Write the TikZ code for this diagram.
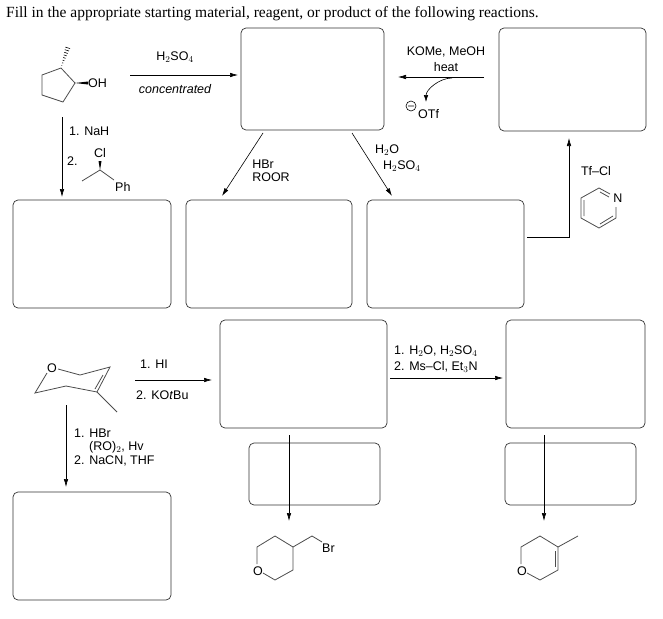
\documentclass[tikz,border=0pt]{standalone}
\usepackage{fontspec}
\setmainfont{Liberation Sans}
\newfontfamily\titlefont{Liberation Serif}
\usetikzlibrary{arrows.meta,calc}
\begin{document}
\begin{tikzpicture}[x=1pt,y=-1pt,
  box/.style={draw=black!80,rounded corners=5pt,line width=0.7pt},
  arr/.style={-{Latex[length=8pt,width=4.5pt]},line width=0.6pt},
  bond/.style={draw=black!70,line width=0.8pt},
  lab/.style={font=\fontsize{12.5}{13}\selectfont,inner sep=0pt,align=left}]
\useasboundingbox (0,0) rectangle (663,618);
\node[anchor=west,inner sep=0pt,font=\titlefont\fontsize{15.5}{17}\selectfont] (title) at (6,14) {Fill in the appropriate starting material, reagent, or product of the following reactions.};
% boxes
\draw[box] (241,28) rectangle (384,130);
\draw[box] (499,28) rectangle (646,131);
\draw[box] (13,200) rectangle (171,308);
\draw[box] (186,200) rectangle (352,308);
\draw[box] (367,200) rectangle (524,308);
\draw[box] (220,320) rectangle (387,428);
\draw[box] (506,320) rectangle (645,428);
\draw[box] (249,443) rectangle (380,505);
\draw[box] (505,443) rectangle (636,505);
\draw[box] (13,492) rectangle (171,600);
% coordinates
\coordinate (a1s) at (130,75); \coordinate (a1e) at (238,75);
\coordinate (a2s) at (62,117); \coordinate (a2e) at (62,197);
\coordinate (a3s) at (263,133); \coordinate (a3e) at (222,196);
\coordinate (a4s) at (352,133); \coordinate (a4e) at (392,196);
\coordinate (a5s) at (484,77); \coordinate (a5e) at (398,77);
\coordinate (a6s) at (527,237); \coordinate (a6m) at (569,237); \coordinate (a6e) at (569,138);
\coordinate (a7s) at (135,380); \coordinate (a7e) at (212,380);
\coordinate (a8s) at (66,405); \coordinate (a8e) at (66,487);
\coordinate (a9s) at (390,378); \coordinate (a9e) at (503,378);
\coordinate (a10s) at (289,435); \coordinate (a10e) at (289,521);
\coordinate (a11s) at (544,435); \coordinate (a11e) at (544,521);
\draw[arr] (a1s) -- (a1e);
\draw[arr] (a2s) -- (a2e);
\draw[arr] (a3s) -- (a3e);
\draw[arr] (a4s) -- (a4e);
\draw[arr] (a5s) -- (a5e);
\draw[arr] (a6s) -- (a6m) -- (a6e);
\draw[arr] (a7s) -- (a7e);
\draw[arr] (a8s) -- (a8e);
\draw[arr] (a9s) -- (a9e);
\draw[arr] (a10s) -- (a10e);
\draw[arr] (a11s) -- (a11e);
\coordinate (c1) at (452,78); \coordinate (c2) at (426,102);
\draw[-{Latex[length=7pt,width=4.5pt]},line width=0.6pt] (c1) to[out=180,in=90,looseness=0.9] (c2);
% labels
\node[lab] (l1) at (175,57) {H$_2$SO$_4$};
\node[lab,font=\itshape\fontsize{12.5}{13}\selectfont] (l2) at (175,89) {concentrated};
\node[lab,anchor=west] (l3) at (69,131) {1. NaH};
\node[lab,anchor=west] (l4) at (67,161) {2.};
\node[lab] (cl) at (100,153) {Cl};
\node[lab,anchor=west] (ph) at (115,187) {Ph};
\fill (100,170) -- (98.5,161) -- (101.5,161) -- cycle;
\draw[bond] (100,170) -- (82,181) (100,170) -- (114,180);
\node[lab,align=left] (l5) at (271,171) {HBr\\ROOR};
\node[lab,anchor=west] (l6) at (375,150) {H$_2$O};
\node[lab,anchor=west] (l7) at (383,166) {H$_2$SO$_4$};
\node[lab] (l8) at (446,52) {KOMe, MeOH};
\node[lab] (l8b) at (446,67) {heat};
\node[lab,anchor=west] (otf) at (418,114) {OTf};
\draw[line width=0.6pt] (411,106) circle (5) (408,106) -- (414,106);
\node[lab] (l9) at (596,171) {Tf--Cl};
\node[lab,anchor=west] (l10) at (140,364) {1. HI};
\node[lab,anchor=west] (l11) at (136,395) {2. KO\textit{t}Bu};
\node[lab,anchor=west] (l12) at (74,433) {1. HBr};
\node[lab,anchor=west] (l13) at (89,447) {(RO)$_2$, Hv};
\node[lab,anchor=west] (l14) at (74,461) {2. NaCN, THF};
\node[lab,anchor=west] (l15) at (394,351) {1. H$_2$O, H$_2$SO$_4$};
\node[lab,anchor=west] (l16) at (394,367) {2. Ms--Cl, Et$_3$N};
% cyclopentanol
\draw[bond] (42,75) -- (61,68) -- (75,83) -- (63,102) -- (42,95) -- cycle;
\foreach \t in {0.12,0.24,...,1} \draw[line width=0.6pt] ($(61,68)!\t!(68,47)+(-\t*2.5,-\t*0.8)$) -- ($(61,68)!\t!(68,47)+(\t*2.5,\t*0.8)$);
\fill (75,83) -- (88,81.5) -- (88,84.5) -- cycle;
\node[lab,anchor=west] (oh) at (88,83.5) {OH};
% pyridine
\draw[bond] (599,188) -- (581,198) -- (581,218) -- (599,228) -- (616,218) -- (616,207);
\draw[bond] (599,188) -- (610,194);
\draw[bond] (584,200) -- (584,216) (600,224) -- (613,216) (600,192) -- (609,197);
\node[lab] (n) at (618,198) {N};
% dihydropyran bottom-left
\node[lab] (o1) at (52,368) {O};
\draw[bond] (58,369) -- (80,375) -- (110,367) -- (97,392) -- (66,386) -- (35,393) -- (47,373);
\draw[bond] (103,375) -- (95,389);
\draw[bond] (97,392) -- (117,412);
% bottom molecule 1
\node[lab] (o2) at (258,571) {O};
\draw[bond] (257,564) -- (257,547) -- (275,536) -- (293,547) -- (293,570) -- (275,580) -- (263,573);
\draw[bond] (293,547) -- (312,536) -- (322,542);
\node[lab,anchor=west] (br) at (322,548) {Br};
% bottom molecule 2
\node[lab] (o3) at (522,571) {O};
\draw[bond] (521,564) -- (521,547) -- (540,536) -- (558,547) -- (558,570) -- (540,580) -- (527,573);
\draw[bond] (555,551) -- (555,567);
\draw[bond] (558,547) -- (578,536);
\end{tikzpicture}
\end{document}
